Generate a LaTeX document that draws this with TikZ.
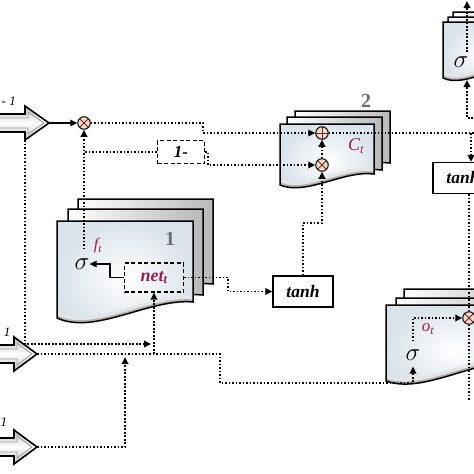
\documentclass[tikz,border=0pt]{standalone}
\usepackage{fontspec}
\setmainfont{Liberation Serif}
\usetikzlibrary{arrows.meta,calc}
\definecolor{lblred}{RGB}{150,30,80}
\definecolor{opfill}{RGB}{245,218,200}
\definecolor{opline}{RGB}{110,40,40}
\definecolor{pagetint}{RGB}{218,227,234}

\newcommand{\frontpage}[5]{%
 \path[frontfill] (#1,#3) -- (#2,#3) -- (#2,#5) .. controls ({#2-0.32*(#2-#1)},{#5-4}) and ({#1+0.28*(#2-#1)},{#4+0.18*(#4-#3)}) .. (#1,#4) -- cycle;
 \begin{scope}
  \clip (#1,#3) -- (#2,#3) -- (#2,#5) .. controls ({#2-0.32*(#2-#1)},{#5-4}) and ({#1+0.28*(#2-#1)},{#4+0.18*(#4-#3)}) .. (#1,#4) -- cycle;
  \draw[gray!20, line width=12pt] (#2,#5) .. controls ({#2-0.32*(#2-#1)},{#5-4}) and ({#1+0.28*(#2-#1)},{#4+0.18*(#4-#3)}) .. (#1,#4);
  \draw[gray!60, line width=5pt] (#2,#5) .. controls ({#2-0.32*(#2-#1)},{#5-4}) and ({#1+0.28*(#2-#1)},{#4+0.18*(#4-#3)}) .. (#1,#4);
 \end{scope}
 \path[pageborder] (#1,#3) -- (#2,#3) -- (#2,#5) .. controls ({#2-0.32*(#2-#1)},{#5-4}) and ({#1+0.28*(#2-#1)},{#4+0.18*(#4-#3)}) .. (#1,#4) -- cycle;}
\newcommand{\backpage}[5]{%
 \path[backfill,pageborder] (#1,#3) -- (#2,#3) -- (#2,#5) .. controls ({#2-0.32*(#2-#1)},{#5-4}) and ({#1+0.28*(#2-#1)},{#4+0.18*(#4-#3)}) .. (#1,#4) -- cycle;}
\newcommand{\hollowarr}[3]{%
 \path[harrow] (-10,{#2-9}) -- ({#1-#3},{#2-9}) -- ({#1-#3},{#2-17}) -- (#1,#2) -- ({#1-#3},{#2+17}) -- ({#1-#3},{#2+9}) -- (-10,{#2+9}) -- cycle;
 \draw[harrowin] (-10,{#2-5}) -- ({#1-#3+3},{#2-5}) -- ({#1-#3+3},{#2-11}) -- ({#1-5},#2) -- ({#1-#3+3},{#2+11}) -- ({#1-#3+3},{#2+5}) -- (-10,{#2+5});}

\begin{document}
\begin{tikzpicture}[x=1pt,y=-1pt,
 dotl/.style={line width=1.9pt, dash pattern=on 1.7pt off 1.8pt},
 dotarr/.style={dotl,-{Triangle[length=7pt,width=6.5pt]}},
 solarr/.style={line width=1.3pt,-{Triangle[length=7pt,width=6.5pt]}},
 frontfill/.style={inner color=white, outer color=pagetint},
 backfill/.style={left color=white, right color=gray!55},
 pageborder/.style={draw=black, line width=1.5pt},
 harrow/.style={draw=black, line width=1.6pt, top color=gray!50, bottom color=gray!50, middle color=white},
 harrowin/.style={draw=gray!75, line width=0.9pt},
 opnode/.style={circle, draw=black, line width=1pt, fill=opfill, minimum size=12.5pt, inner sep=0pt},
 timesop/.style={opnode, path picture={\draw[opline,line width=0.9pt] (path picture bounding box.north west) -- (path picture bounding box.south east) (path picture bounding box.north east) -- (path picture bounding box.south west);}},
 plusop/.style={opnode, path picture={\draw[opline,line width=0.9pt] (path picture bounding box.north) -- (path picture bounding box.south) (path picture bounding box.east) -- (path picture bounding box.west);}},
 solidbox/.style={draw=black, line width=1.3pt, fill=white, minimum width=60pt, minimum height=31pt, inner sep=0pt, font=\fontsize{17.5}{20}\selectfont\bfseries\itshape},
 dashbox/.style={draw=black, line width=1.1pt, dash pattern=on 4pt off 2.5pt, inner sep=0pt},
 sig/.style={inner sep=0pt, font=\fontsize{23}{25}\selectfont},
 redlbl/.style={inner sep=0pt, text=lblred, font=\fontsize{17}{19}\selectfont\itshape},
 numlbl/.style={inner sep=0pt, text=gray!85!black, font=\fontsize{20}{22}\selectfont\bfseries},
 inlbl/.style={inner sep=0pt, font=\fontsize{13}{15}\selectfont\itshape}
]
\useasboundingbox (0,0) rectangle (474,474);
\clip (0,0) rectangle (474,474);

% pages
\backpage{78}{213}{199}{300}{284}
\backpage{68}{203}{209}{310}{295}
\frontpage{57}{193}{221}{318}{302}
\backpage{295}{390}{111}{175}{163}
\backpage{287}{382}{117}{180}{170}
\frontpage{280}{374}{124}{185}{174}
\backpage{404}{540}{289}{370}{350}
\backpage{396}{530}{298}{376}{356}
\frontpage{386}{520}{305}{381}{362}
\backpage{453}{540}{12}{70}{60}
\backpage{448}{530}{17}{74}{64}
\frontpage{443}{520}{22}{78}{68}

% input arrows
\hollowarr{49}{123}{24}
\hollowarr{37}{354}{23}
\hollowarr{37}{447}{23}
\coordinate (a1) at (49,123);
\coordinate (a1b) at (25,140);
\coordinate (a2) at (37,354);
\coordinate (a3) at (37,447);
\node[inlbl, anchor=east] (l1) at (16,101) {- 1};
\node[inlbl] (l2) at (7,332) {1};
\node[inlbl] (l3) at (4,422) {1};

% nodes
\node[timesop] (m1) at (84,123) {};
\node[plusop] (p1) at (322,133) {};
\node[timesop] (m2) at (322,165) {};
\node[timesop] (m3) at (469,318) {};
\node[dashbox, minimum width=47pt, minimum height=23pt, font=\fontsize{17}{19}\selectfont\bfseries\itshape] (om) at (181,152) {1-};
\node[dashbox, minimum width=59pt, minimum height=29pt, text=lblred, font=\fontsize{18}{20}\selectfont\bfseries\itshape] (net) at (154,277.5) {net\textsubscript{t}};
\node[solidbox] (tl) at (303,291.5) {tanh};
\node[solidbox] (tr) at (463,178) {tanh};
\node[sig] (s1) at (82,264) {$\sigma$};
\node[sig] (s3) at (413,355) {$\sigma$};
\node[sig] (sR) at (461,62) {$\sigma$};
\node[redlbl, font=\fontsize{16}{18}\selectfont\itshape] (ft) at (98,246) {f\textsubscript{t}};
\node[redlbl, font=\fontsize{18}{20}\selectfont\itshape] (ct) at (356,146) {C\textsubscript{t}};
\node[redlbl] (ot) at (428,329) {o\textsubscript{t}};
\node[numlbl] (n1) at (170,239) {1};
\node[numlbl] (n2) at (366,101) {2};

% helper coordinates
\coordinate (c1) at (203,123);
\coordinate (c2) at (203,133);
\coordinate (edgeC) at (480,133);
\coordinate (crR) at (471,133);
\coordinate (k1) at (322,223);
\coordinate (k2) at (228,277.5);
\coordinate (k3) at (151,344);
\coordinate (k4) at (220,354);
\coordinate (k5) at (413,383);
\coordinate (k6) at (125,447);
\coordinate (k7) at (125,357);
\coordinate (edgeT) at (480,118);
\coordinate (k8) at (467,118);
\coordinate (k9) at (467,80);
\coordinate (k10) at (467,52);
\coordinate (k11) at (467,1);
\coordinate (k12) at (469,400);

% connectors
\draw[solarr] (a1) -- (m1);
\draw[dotarr] (m1) -- (c1) -- (c2) -- (p1);
\draw[dotl] (p1) -- (edgeC);
\draw[dotarr] (crR) -- (crR |- tr.north);
\draw[dotarr, shorten <=9pt] (s1.north -| m1) -- (m1);
\draw[dotl] (om.west) -- (om.west -| m1);
\draw[dotarr] (om.east) -- ++(3,0) |- (m2);
\draw[dotarr] (m2) -- (p1);
\draw[dotarr] (tl.north) |- (k1) -- (m2);
\draw[dotarr] (net.east) -- (k2) |- (tl.west);
\draw[solarr] (net.west) -- ++(-14,0) |- (s1.east);
\draw[dotarr] (a1b) |- (k3);
\draw[dotarr, shorten >=6pt] (a2) -- (k4) |- (k5) -- (s3.south);
\draw[dotarr] (net.south |- a2) -- (net.south);
\draw[dotarr] (a3) -- (k6) -- (k7);
\draw[dotarr, shorten <=8pt] (s3.north) |- (m3);
\draw[dotl] (tr.south -| m3) -- (m3);
\draw[dotl] (m3) -- (k12);
\draw[dotarr] (edgeT) -- (k8) -- (k9);
\draw[dotarr] (k10) -- (k11);
\end{tikzpicture}
\end{document}
